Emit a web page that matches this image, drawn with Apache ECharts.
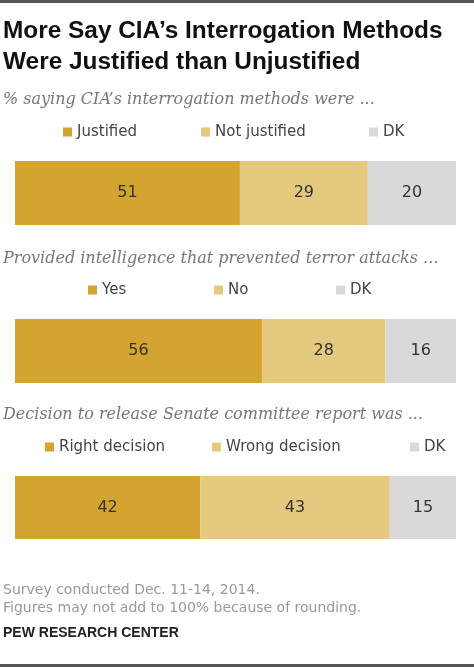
<!DOCTYPE html>
<html><head><meta charset="utf-8">
<script src="https://cdn.jsdelivr.net/npm/echarts@6/dist/echarts.min.js"></script>
<style>html,body{margin:0;padding:0;background:#fff}#c{width:474px;height:667px}</style>
</head><body><div id="c"></div>
<script>
// Data
const titleLines = ['More Say CIA\u2019s Interrogation Methods', 'Were Justified than Unjustified'];
const questions = [
  '% saying CIA\u2019s interrogation methods were ...',
  'Provided intelligence that prevented terror attacks ...',
  'Decision to release Senate committee report was ...'
];
const answers1 = ['Justified', 'Not justified', 'DK'];
const answers2 = ['Yes', 'No', 'DK'];
const answers3 = ['Right decision', 'Wrong decision', 'DK'];
const values1 = [51, 29, 20];
const values2 = [56, 28, 16];
const values3 = [42, 43, 15];
const notes = ['Survey conducted Dec. 11-14, 2014.', 'Figures may not add to 100% because of rounding.'];
const source = 'PEW RESEARCH CENTER';

const colors = ['#D3A430', '#E5C97E', '#D9D9D9'];
const answerSets = [answers1, answers2, answers3];
const valueSets = [values1, values2, values3];

const gridTops = [161, 319, 476];
const gridH = [64, 64, 63];
const qTops = [91, 250, 406];
const legendY = [132, 290, 447];
const legendX = [[63, 201, 369], [88, 214, 336], [45, 212, 410]];

const grids = [], xAxes = [], yAxes = [], series = [], legends = [], titles = [];
for (let g = 0; g < 3; g++) {
  grids.push({left: 15, width: 441, top: gridTops[g], height: gridH[g]});
  xAxes.push({type: 'value', gridIndex: g, min: 0, max: 100, show: false});
  yAxes.push({type: 'category', gridIndex: g, data: ['q'], show: false});
  for (let k = 0; k < 3; k++) {
    series.push({
      type: 'bar', name: answerSets[g][k], stack: 's' + g,
      xAxisIndex: g, yAxisIndex: g, barWidth: '100%',
      itemStyle: {color: colors[k]},
      label: {show: true, position: 'inside', color: '#333', fontSize: 16,
        fontFamily: 'DejaVu Sans, sans-serif'},
      emphasis: {disabled: true},
      data: [valueSets[g][k]]
    });
    legends.push({
      data: [answerSets[g][k]], left: legendX[g][k], top: legendY[g] - 9,
      icon: 'rect', itemWidth: 9, itemHeight: 9, selectedMode: false,
      padding: 0,
      textStyle: {fontSize: 15, color: '#444', fontFamily: 'DejaVu Sans, sans-serif', lineHeight: 18}
    });
  }
  titles.push({
    text: questions[g], left: 3, top: qTops[g], padding: 0,
    textStyle: {fontSize: 16, fontStyle: 'italic', fontWeight: 'normal', color: '#777',
      fontFamily: 'DejaVu Serif, serif', lineHeight: 18}
  });
}
titles.push({
  text: titleLines.join('\n'), left: 3, top: 16, padding: 0,
  textStyle: {fontSize: 24.4, fontWeight: 'bold', color: '#111', lineHeight: 31,
    fontFamily: 'Liberation Sans, Arial, sans-serif'}
});
titles.push({
  text: notes.join('\n'), left: 3, top: 581, padding: 0,
  textStyle: {fontSize: 14, fontWeight: 'normal', color: '#999', lineHeight: 18,
    fontFamily: 'DejaVu Sans, sans-serif'}
});
titles.push({
  text: source, left: 3, top: 626, padding: 0,
  textStyle: {fontSize: 14, fontWeight: 'bold', color: '#222',
    fontFamily: 'Liberation Sans, Arial, sans-serif'}
});

const chart = echarts.init(document.getElementById('c'), null, {renderer: 'canvas'});
chart.setOption({
  animation: false,
  title: titles,
  legend: legends,
  grid: grids,
  xAxis: xAxes,
  yAxis: yAxes,
  series: series,
  graphic: [
    {type: 'rect', left: 0, top: 0, shape: {width: 474, height: 3}, style: {fill: '#555'}},
    {type: 'rect', left: 0, top: 664, shape: {width: 474, height: 3}, style: {fill: '#555'}}
  ]
});
</script></body></html>
